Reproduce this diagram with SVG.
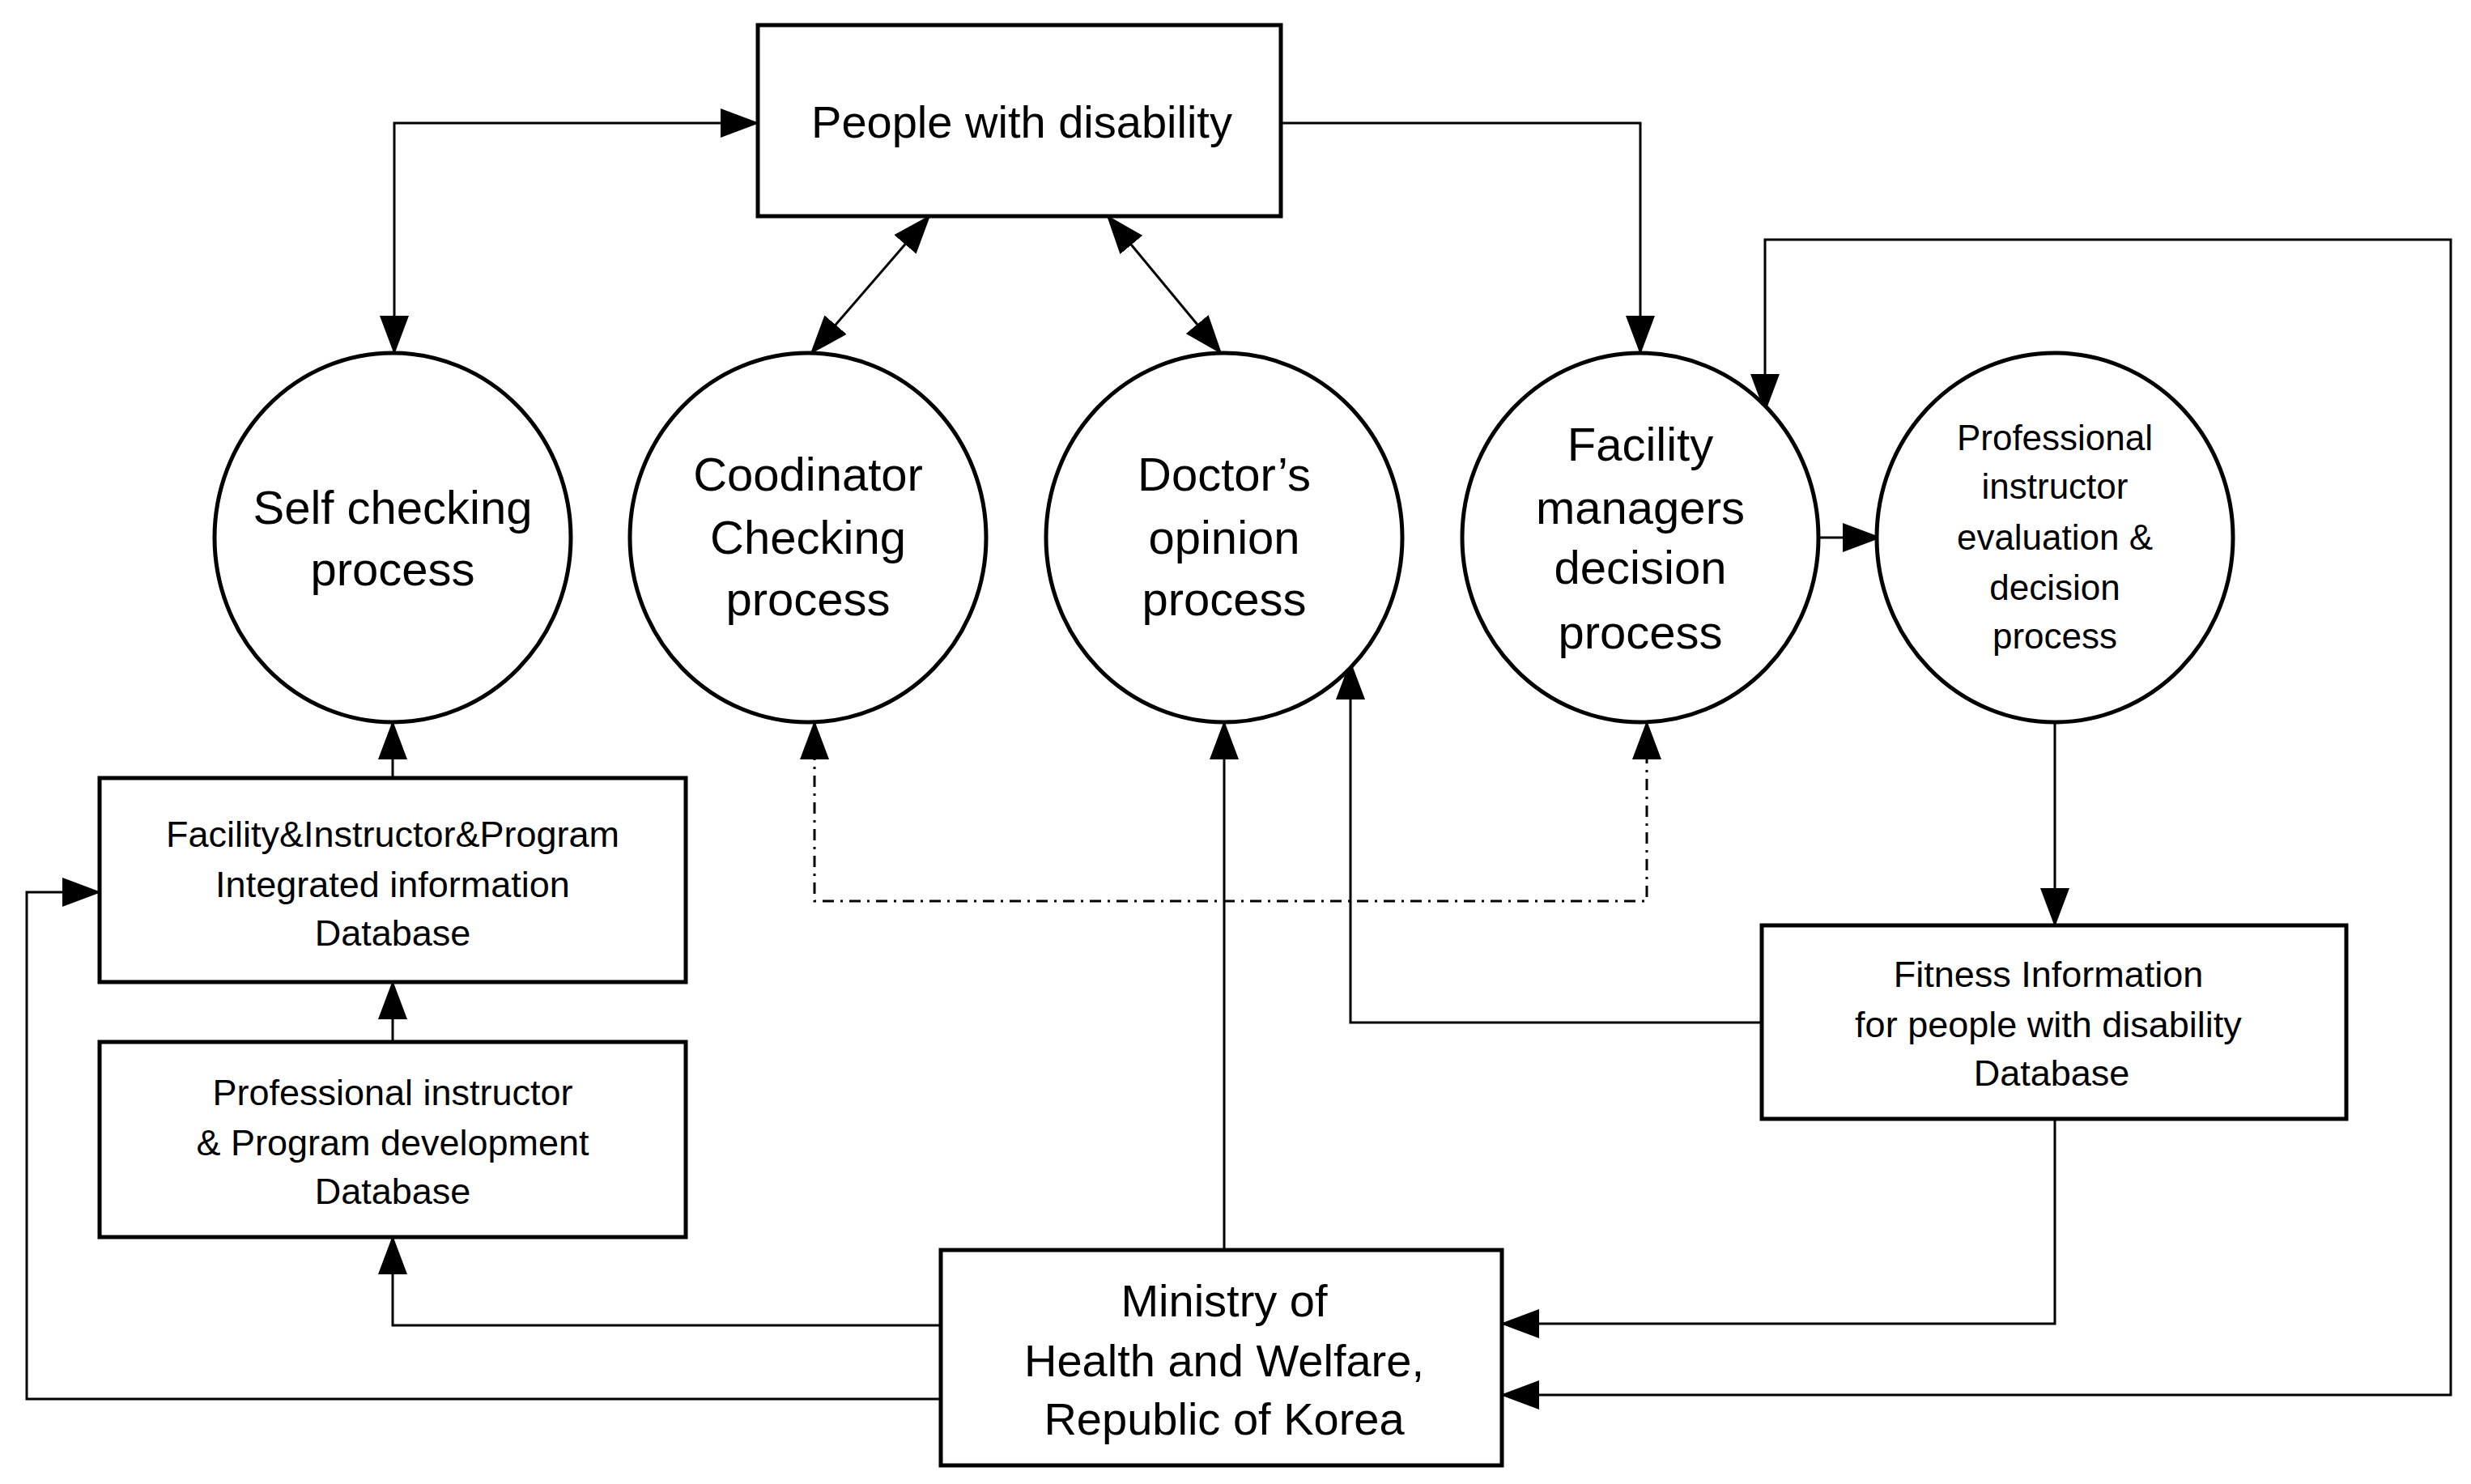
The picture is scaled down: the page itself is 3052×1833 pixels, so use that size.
<svg xmlns="http://www.w3.org/2000/svg" width="3052" height="1833" viewBox="0 0 3052 1833">
<style>
.n{fill:#fff;stroke:#000;stroke-width:5}
.c{fill:none;stroke:#000;stroke-width:3}
.d{stroke-dasharray:14,8,3,8}
text{font-family:"Liberation Sans",Arial,sans-serif;text-anchor:middle;fill:#000}
.l{font-size:56px}.m{font-size:58px}.s{font-size:45px}.p{font-size:44px}
</style>
<defs>
<marker id="a" markerUnits="userSpaceOnUse" markerWidth="48" markerHeight="36" refX="46" refY="18" orient="auto-start-reverse"><path d="M0,0L48,18L0,36z"/></marker>
</defs>
<rect width="3052" height="1833" fill="#fff"/>
<g id="connectors">
<path class="c" d="M487,436V152H936" marker-start="url(#a)" marker-end="url(#a)"/>
<path class="c" d="M1582,152H2026V436" marker-end="url(#a)"/>
<path class="c" d="M1148,267L1002,436" marker-start="url(#a)" marker-end="url(#a)"/>
<path class="c" d="M1368,267L1508,436" marker-start="url(#a)" marker-end="url(#a)"/>
<path class="c" d="M2246,664H2322" marker-end="url(#a)"/>
<path class="c" d="M1855,1723H3027V296H2180V508" marker-start="url(#a)" marker-end="url(#a)"/>
<path class="c" d="M2538,886V1143" marker-end="url(#a)"/>
<path class="c" d="M2538,1382V1635H1855" marker-end="url(#a)"/>
<path class="c" d="M2176,1263H1668V818" marker-end="url(#a)"/>
<path class="c" d="M1512,1544V892" marker-end="url(#a)"/>
<path class="c d" d="M1006,892V1113H2034V892" marker-start="url(#a)" marker-end="url(#a)"/>
<path class="c" d="M1162,1637H485V1528" marker-end="url(#a)"/>
<path class="c" d="M1162,1728H33V1102H123" marker-end="url(#a)"/>
<path class="c" d="M485,961V892" marker-end="url(#a)"/>
<path class="c" d="M485,1287V1213" marker-end="url(#a)"/>
</g>
<g id="people"><rect class="n" x="936" y="31" width="646" height="236"/><text class="l" x="1262" y="170">People with disability</text></g>
<g id="self"><ellipse class="n" cx="485" cy="664" rx="220" ry="228"/><text class="m" x="485" y="647">Self checking</text><text class="m" x="485" y="723">process</text></g>
<g id="coord"><ellipse class="n" cx="998" cy="664" rx="220" ry="228"/><text class="m" x="998" y="606">Coodinator</text><text class="m" x="998" y="684">Checking</text><text class="m" x="998" y="760">process</text></g>
<g id="doctor"><ellipse class="n" cx="1512" cy="664" rx="220" ry="228"/><text class="m" x="1512" y="606">Doctor’s</text><text class="m" x="1512" y="684">opinion</text><text class="m" x="1512" y="760">process</text></g>
<g id="facility"><ellipse class="n" cx="2026" cy="664" rx="220" ry="228"/><text class="m" x="2026" y="569">Facility</text><text class="m" x="2026" y="647">managers</text><text class="m" x="2026" y="721">decision</text><text class="m" x="2026" y="801">process</text></g>
<g id="prof"><ellipse class="n" cx="2538" cy="664" rx="220" ry="228"/><text class="p" x="2538" y="556">Professional</text><text class="p" x="2538" y="616">instructor</text><text class="p" x="2538" y="679">evaluation &amp;</text><text class="p" x="2538" y="741">decision</text><text class="p" x="2538" y="801">process</text></g>
<g id="integrated"><rect class="n" x="123" y="961" width="724" height="252"/><text class="s" x="485" y="1046">Facility&amp;Instructor&amp;Program</text><text class="s" x="485" y="1108">Integrated information</text><text class="s" x="485" y="1168">Database</text></g>
<g id="profdb"><rect class="n" x="123" y="1287" width="724" height="241"/><text class="s" x="485" y="1365">Professional instructor</text><text class="s" x="485" y="1427">&amp; Program development</text><text class="s" x="485" y="1487">Database</text></g>
<g id="fitness"><rect class="n" x="2176" y="1143" width="722" height="239"/><text class="s" x="2530" y="1219">Fitness Information</text><text class="s" x="2530" y="1281">for people with disability</text><text class="s" x="2534" y="1341">Database</text></g>
<g id="ministry"><rect class="n" x="1162" y="1544" width="693" height="266"/><text class="l" x="1512" y="1626">Ministry of</text><text class="l" x="1512" y="1700">Health and Welfare,</text><text class="l" x="1512" y="1772">Republic of Korea</text></g>
</svg>
